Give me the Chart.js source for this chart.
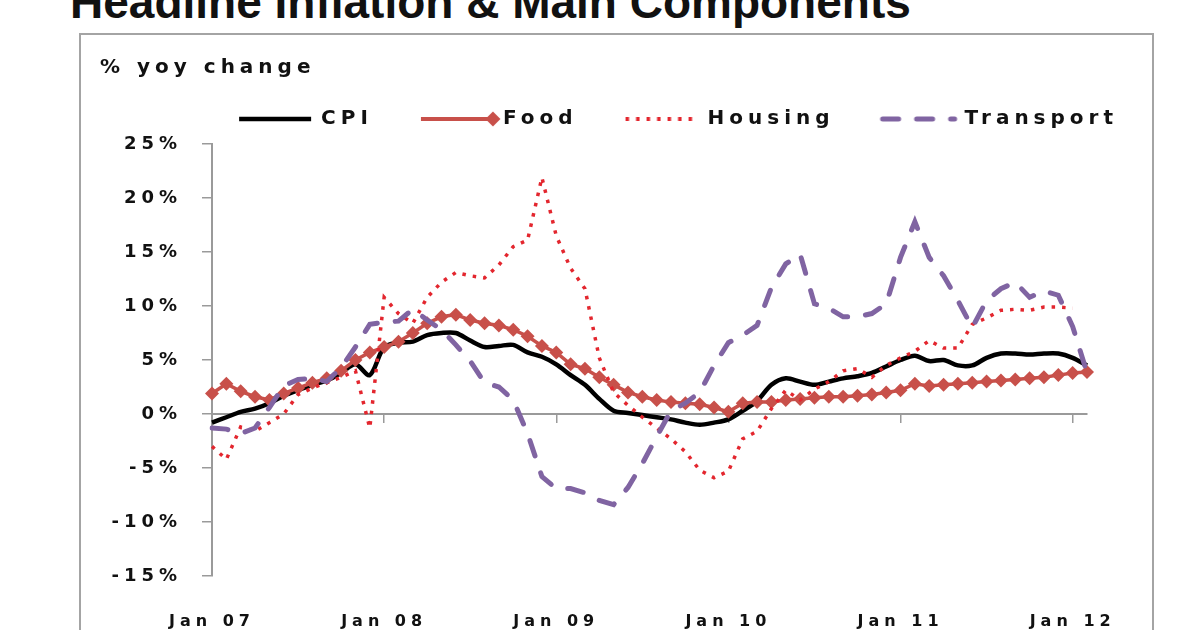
<!DOCTYPE html>
<html>
<head>
<meta charset="utf-8">
<title>Headline Inflation & Main Components</title>
<script src="https://cdn.jsdelivr.net/npm/chart.js@4.4.1/dist/chart.umd.min.js"></script>
<style>
  html, body { margin: 0; padding: 0; background: #fff; }
  #wrap { position: relative; width: 1200px; height: 630px; overflow: hidden; }
  #heading {
    position: absolute; left: 70px; top: -21px; margin: 0;
    font: bold 46px "Liberation Sans", Arial, sans-serif; line-height: 46px;
    color: #111; white-space: nowrap;
  }
  #frame {
    position: absolute; left: 79px; top: 33px; width: 1071px; height: 700px;
    border: 2px solid #a4a4a4;
  }
  #chart { position: absolute; left: 0; top: 0; }
</style>
</head>
<body>
<div id="wrap">
  <div id="heading">Headline Inflation &amp; Main Components</div>
  <div id="frame"></div>
  <canvas id="chart" width="1200" height="630"></canvas>
</div>
<script>
// months Jan 07 .. Feb 12
const months = [
  'Jan 07','Feb 07','Mar 07','Apr 07','May 07','Jun 07','Jul 07','Aug 07','Sep 07','Oct 07','Nov 07','Dec 07',
  'Jan 08','Feb 08','Mar 08','Apr 08','May 08','Jun 08','Jul 08','Aug 08','Sep 08','Oct 08','Nov 08','Dec 08',
  'Jan 09','Feb 09','Mar 09','Apr 09','May 09','Jun 09','Jul 09','Aug 09','Sep 09','Oct 09','Nov 09','Dec 09',
  'Jan 10','Feb 10','Mar 10','Apr 10','May 10','Jun 10','Jul 10','Aug 10','Sep 10','Oct 10','Nov 10','Dec 10',
  'Jan 11','Feb 11','Mar 11','Apr 11','May 11','Jun 11','Jul 11','Aug 11','Sep 11','Oct 11','Nov 11','Dec 11',
  'Jan 12','Feb 12'
];
const xTickLabels = ['Jan 07', 'Jan 08', 'Jan 09', 'Jan 10', 'Jan 11', 'Jan 12'];

// % yoy change
const cpi = [
  -0.8, -0.3, 0.2, 0.5, 1.0, 1.7, 2.2, 2.7, 3.1, 3.8, 4.6, 3.6,
  6.2, 6.6, 6.7, 7.3, 7.5, 7.5, 6.8, 6.2, 6.3, 6.4, 5.7, 5.3,
  4.6, 3.6, 2.7, 1.4, 0.3, 0.1, -0.1, -0.3, -0.5, -0.8, -1.0, -0.8,
  -0.5, 0.3, 1.2, 2.7, 3.3, 3.0, 2.7, 3.0, 3.3, 3.5, 3.8, 4.4,
  5.0, 5.4, 4.9, 5.0, 4.5, 4.5, 5.2, 5.6, 5.6, 5.5, 5.6, 5.6,
  5.2, 4.5
];
const food = [
  1.9, 2.8, 2.1, 1.6, 1.3, 1.9, 2.4, 2.9, 3.3, 4.0, 5.0, 5.7,
  6.2, 6.7, 7.5, 8.4, 9.0, 9.2, 8.7, 8.4, 8.2, 7.8, 7.2, 6.3,
  5.7, 4.6, 4.2, 3.4, 2.7, 2.0, 1.6, 1.3, 1.1, 1.0, 0.9, 0.6,
  0.2, 1.0, 1.1, 1.1, 1.3, 1.4, 1.5, 1.6, 1.6, 1.7, 1.8, 2.0,
  2.2, 2.8, 2.6, 2.7, 2.8, 2.9, 3.0, 3.1, 3.2, 3.3, 3.4, 3.6,
  3.8, 3.9
];
const housing = [
  -3.0, -4.2, -1.2, -1.6, -0.8, 0.0, 1.8, 2.4, 2.9, 3.4, 4.0, -1.3,
  10.8, 9.3, 8.4, 10.8, 12.2, 13.1, 12.8, 12.6, 13.8, 15.5, 16.1, 21.9,
  16.5, 13.5, 11.6, 5.2, 2.0, 0.8, -0.3, -1.3, -2.3, -3.5, -5.2, -5.9,
  -5.3, -2.3, -1.6, 0.5, 2.2, 1.3, 2.3, 3.0, 4.0, 4.2, 3.4, 4.5,
  5.2, 5.8, 6.8, 6.1, 6.1, 8.3, 8.9, 9.6, 9.7, 9.6, 9.9, 9.9,
  9.8, null
];
const transport = [
  -1.3, -1.4, -1.8, -1.3, 0.6, 2.6, 3.2, 3.3, 3.0, 4.3, 6.2, 8.3,
  8.5, 8.6, 9.7, 8.7, 7.8, 6.4, 4.9, 2.9, 2.5, 1.3, -1.8, -5.8,
  -6.9, -6.9, -7.3, -8.0, -8.4, -6.8, -4.6, -2.1, 0.3, 1.0, 2.0, 4.5,
  6.6, 7.3, 8.2, 11.7, 13.9, 14.8, 10.2, 9.8, 9.0, 9.0, 9.3, 10.2,
  14.5, 17.8, 14.5, 12.8, 10.5, 8.0, 10.5, 11.6, 12.2, 10.8, 11.4, 11.0,
  8.1, 3.8
];

const FONT = '"DejaVu Sans", Verdana, sans-serif';
const INK = '#111';
const AXIS = '#9a9a9a';
const KEY_W = 72;

// canvas text in the original is widely spaced
const spacing = {
  id: 'spacing',
  beforeUpdate(chart) { chart.ctx.letterSpacing = '5px'; },
  beforeDraw(chart) { chart.ctx.letterSpacing = '5px'; }
};

// legend sample: the dataset's own line style, with a marker at the end if it has one
function makeKey(ds) {
  const c = document.createElement('canvas');
  c.width = KEY_W + 16;
  c.height = 18;
  const g = c.getContext('2d');
  const y = c.height / 2;
  g.strokeStyle = ds.borderColor;
  g.lineWidth = Math.max(ds.borderWidth, 4);
  g.lineCap = ds.borderCapStyle || 'butt';
  g.setLineDash(ds.borderDash || []);
  g.beginPath();
  g.moveTo(8, y);
  g.lineTo(8 + KEY_W, y);
  g.stroke();
  if (ds.pointStyle === 'rectRot') {
    const r = ds.pointRadius + 0.5;
    const x = 8 + KEY_W;
    g.fillStyle = ds.backgroundColor;
    g.beginPath();
    g.moveTo(x, y - r);
    g.lineTo(x + r, y);
    g.lineTo(x, y + r);
    g.lineTo(x - r, y);
    g.closePath();
    g.fill();
  }
  return c;
}

new Chart(document.getElementById('chart'), {
  type: 'line',
  data: {
    labels: months,
    datasets: [{
      label: 'CPI',
      data: cpi,
      borderColor: '#000',
      backgroundColor: '#000',
      borderWidth: 4.5,
      pointRadius: 0,
      tension: 0.3,
      order: 4
    }, {
      label: 'Food',
      data: food,
      borderColor: '#c8504a',
      backgroundColor: '#c8504a',
      borderWidth: 3.5,
      pointStyle: 'rectRot',
      pointRadius: 7,
      pointBorderWidth: 0,
      order: 3
    }, {
      label: 'Housing',
      data: housing,
      borderColor: '#e3262e',
      backgroundColor: '#e3262e',
      borderWidth: 3.5,
      borderDash: [3.5, 7],
      pointRadius: 0,
      order: 2
    }, {
      label: 'Transport',
      data: transport,
      borderColor: '#8064a2',
      backgroundColor: '#8064a2',
      borderWidth: 5,
      borderDash: [16, 18],
      borderCapStyle: 'round',
      pointRadius: 0,
      order: 1
    }]
  },
  options: {
    responsive: false,
    animation: false,
    layout: { padding: { left: 100, right: 34, top: 0, bottom: 0 } },
    plugins: {
      title: {
        display: true,
        text: '% yoy change',
        align: 'start',
        color: INK,
        font: { family: FONT, size: 20, weight: 'bold' },
        padding: { top: 56, bottom: -19 }
      },
      legend: {
        display: true,
        align: 'end',
        labels: {
          usePointStyle: true,
          pointStyleWidth: KEY_W,
          padding: 48,
          color: INK,
          font: { family: FONT, size: 20, weight: 'bold' },
          sort: (a, b) => a.datasetIndex - b.datasetIndex,
          generateLabels(chart) {
            const items = Chart.defaults.plugins.legend.labels.generateLabels(chart);
            items.forEach(it => { it.pointStyle = makeKey(chart.data.datasets[it.datasetIndex]); });
            return items;
          }
        }
      },
      tooltip: { enabled: false }
    },
    scales: {
      x: {
        type: 'category',
        position: 'bottom',
        offset: false,
        grid: { display: false, drawTicks: false },
        border: { display: false },
        ticks: {
          autoSkip: false,
          maxRotation: 0,
          padding: 36,
          color: INK,
          font: { family: FONT, size: 16, weight: 'bold' },
          callback(value) {
            const lab = this.getLabelForValue(value);
            return xTickLabels.includes(lab) ? lab : '';
          }
        },
        afterFit(scale) { scale.height = 54; }
      },
      x0: {
        type: 'category',
        position: { y: 0 },
        offset: false,
        grid: {
          drawOnChartArea: false,
          drawTicks: true,
          tickLength: 8,
          lineWidth: 1.5,
          color(ctx) {
            const lab = months[ctx.index];
            return xTickLabels.includes(lab) ? AXIS : 'rgba(0,0,0,0)';
          }
        },
        border: { display: true, color: AXIS, width: 2 },
        ticks: { display: false, autoSkip: false }
      },
      xt: {
        type: 'category',
        position: 'top',
        grid: { display: false },
        border: { display: false },
        ticks: { display: false },
        afterFit(scale) { scale.height = 5; }
      },
      y: {
        type: 'linear',
        position: 'left',
        min: -15,
        max: 25,
        grid: {
          drawOnChartArea: false,
          drawTicks: true,
          tickLength: 10,
          lineWidth: 1.5,
          color: AXIS
        },
        border: { display: true, color: AXIS, width: 2 },
        ticks: {
          stepSize: 5,
          padding: 20,
          color: INK,
          font: { family: FONT, size: 18, weight: 'bold' },
          callback: v => v + '%'
        },
        afterFit(scale) { scale.width = 112; }
      },
      yr: {
        type: 'linear',
        position: 'right',
        grid: { display: false },
        border: { display: false },
        ticks: { display: false },
        afterFit(scale) { scale.width = 79; }
      }
    }
  },
  plugins: [spacing]
});
</script>
</body>
</html>
